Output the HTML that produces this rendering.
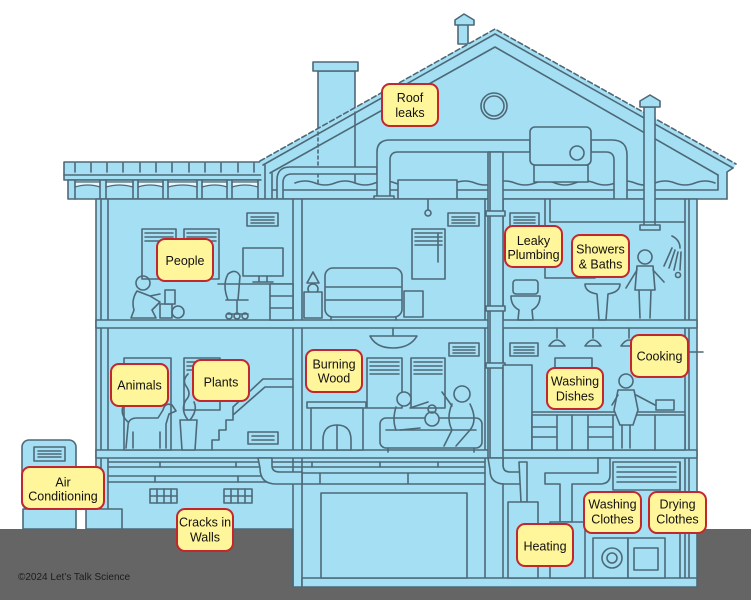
<!DOCTYPE html>
<html><head><meta charset="utf-8"><style>
html,body{margin:0;padding:0;background:#fff;}
svg{display:block}
.s{fill:none;stroke:#4d6977;stroke-width:1.6;stroke-linejoin:round;stroke-linecap:round}
.b{fill:#a5dff3;stroke:#4d6977;stroke-width:1.6;stroke-linejoin:round}
.w{fill:#eaf7fc;stroke:#4d6977;stroke-width:1.2}
.l rect{fill:#fff59b;stroke:#c1272d;stroke-width:2}
.l text{font-family:"Liberation Sans",sans-serif;font-size:12.5px;fill:#111;text-anchor:middle}
</style></head><body>
<svg width="751" height="600" viewBox="0 0 751 600" xmlns="http://www.w3.org/2000/svg">
<rect x="0" y="0" width="751" height="600" fill="#fff"/>
<rect x="0" y="529" width="751" height="71" fill="#656565"/>

<!-- chimney -->
<rect class="b" x="318" y="71" width="37" height="100"/>
<rect class="b" x="313" y="62" width="45" height="9"/>
<!-- peak vent -->
<rect class="b" x="458" y="24" width="10" height="20"/>
<polygon class="b" points="455,25 474,25 474,20 464,14 455,20"/>

<!-- left wing roof -->
<rect class="b" x="64" y="162" width="203" height="18"/>
<path class="s" d="M75,163V172M91,163V172M107,163V172M123,163V172M140,163V172M156,163V172M172,163V172M189,163V172M205,163V172M221,163V172M238,163V172M254,163V172M64,175H265"/>
<rect class="b" x="68" y="180" width="197" height="19"/>
<g class="w">
<path d="M75,182H100V187Q88,183 75,187Z"/><path d="M106,182H133V187Q120,183 106,187Z"/><path d="M138,182H163V187Q150,183 138,187Z"/><path d="M168,182H197V187Q183,183 168,187Z"/><path d="M202,182H227V187Q215,183 202,187Z"/><path d="M232,182H258V187Q245,183 232,187Z"/>
</g>
<path class="s" d="M75,180V199M100,180V199M106,180V199M133,180V199M138,180V199M163,180V199M168,180V199M197,180V199M202,180V199M227,180V199M232,180V199M258,180V199"/>

<!-- main roof -->
<polygon points="260,161 495,29 736,164 733,169 727,172 727,199 263,199" fill="#a5dff3"/>
<polyline class="s" points="260,161 495,29 736,164" stroke-dasharray="5 3"/>
<polyline class="s" points="263,165 495,34 733,168"/>
<polyline class="s" points="270,173 495,47 718,175"/>
<polyline class="s" points="733,168 727,172 727,199"/>
<path class="s" d="M718,175V190H272M263,199H727M265,165V199M272,173V199"/>
<path class="s" d="M318,132V183" stroke-dasharray="3 3"/>
<path class="s" d="M355,112V183"/>
<path class="s" d="M295,183q10,-4 20,0t20,0t20,0t20,0t20,0t20,0t20,0t20,0t20,0t20,0t20,0t20,0t20,0t20,0t20,0t20,0t20,0t20,0t20,0t20,0t20,0"/>
<circle class="s" cx="494" cy="106" r="13"/><circle class="s" cx="494" cy="106" r="10"/>

<!-- ducts -->
<path class="b" d="M277,199V180Q277,167 290,167H377V174H292Q283,174 283,183V199Z"/>
<path class="b" d="M377,199V152Q377,140 390,140H530V152H398Q390,152 390,160V199Z"/>
<path class="b" d="M591,140H612Q627,140 627,155V228H614V160Q614,152 606,152H591Z"/>
<rect class="b" x="534" y="165" width="54" height="17"/>
<rect class="b" x="530" y="127" width="61" height="38" rx="5"/>
<circle class="s" cx="577" cy="153" r="7"/>
<rect class="b" x="374" y="196" width="20" height="4"/>
<rect class="b" x="398" y="180" width="59" height="19"/>
<rect class="b" x="611" y="225" width="20" height="5"/>

<!-- house body -->
<polygon class="b" points="96,199 697,199 697,587 293,587 293,529 96,529"/>
<path class="s" d="M101,199V529M108,199V529M685,199V587M689,199V587M293,199V587M302,199V587M485,199V587M503,199V587"/>
<!-- slabs -->
<rect class="b" x="96" y="320" width="601" height="8"/>
<rect class="b" x="96" y="450" width="601" height="8"/>
<rect class="b" x="302" y="578" width="395" height="9"/>
<!-- pipe column -->
<rect class="b" x="488" y="152" width="15" height="306"/>
<path class="s" d="M490,152V458"/>
<rect class="b" x="486" y="306" width="19" height="5"/>
<rect class="b" x="486" y="363" width="19" height="5"/>
<rect class="b" x="486" y="211" width="19" height="5"/>
<!-- right vent pipe -->
<rect class="b" x="644" y="107" width="11" height="121"/>
<rect class="b" x="640" y="225" width="20" height="5"/>
<polygon class="b" points="640,107 660,107 660,101 650,95 640,101"/>

<!-- UPPER LEFT ROOM -->
<rect class="b" x="247" y="213" width="31" height="13"/>
<path class="s" d="M251,217H274M251,220H274M251,223H274"/>
<rect class="b" x="142" y="229" width="34" height="50"/><path class="s" d="M145,233H173M145,237H173M145,241H173"/>
<rect class="b" x="184" y="229" width="35" height="50"/><path class="s" d="M187,233H216M187,237H216M187,241H216"/>
<rect class="b" x="243" y="248" width="40" height="28"/>
<path class="s" d="M259,276V282M267,276V282M253,282H273M218,284H293"/>
<rect class="b" x="270" y="284" width="23" height="36"/><path class="s" d="M270,296H293M270,308H293"/>
<path class="s" d="M228,300Q222,285 228,274Q236,268 240,276L238,300Z M226,300H248M237,300V312M228,314H248"/>
<circle class="s" cx="229" cy="316" r="3"/><circle class="s" cx="237" cy="316" r="3"/><circle class="s" cx="245" cy="316" r="3"/>
<circle class="s" cx="143" cy="283" r="7"/>
<path class="s" d="M137,291Q131,300 134,310L131,318H156L152,310L160,302L150,296Z M150,296L160,294"/>
<rect class="b" x="160" y="304" width="12" height="14"/><rect class="b" x="165" y="290" width="10" height="14"/>
<circle class="s" cx="178" cy="312" r="6"/>

<!-- UPPER MIDDLE ROOM -->
<path class="s" d="M428,199V210"/><circle class="s" cx="428" cy="213" r="3"/>
<rect class="b" x="448" y="213" width="31" height="13"/><path class="s" d="M452,217H475M452,220H475M452,223H475"/>
<rect class="b" x="412" y="229" width="33" height="50"/><path class="s" d="M415,233H442M415,237H442M415,241H442M415,245H442M438,233V262"/>
<rect class="b" x="325" y="268" width="77" height="49" rx="8"/>
<path class="s" d="M326,287H401M326,300H401M331,317V320M396,317V320"/>
<polygon class="b" points="307,283 319,283 313,272"/><circle class="s" cx="313" cy="289" r="5"/>
<rect class="b" x="304" y="292" width="18" height="26"/>
<rect class="b" x="404" y="291" width="19" height="26"/>

<!-- UPPER RIGHT ROOM -->
<path class="s" d="M545,199V278H595M550,199V222H685"/>
<rect class="b" x="510" y="213" width="29" height="13"/><path class="s" d="M514,217H535M514,220H535M514,223H535"/>
<rect class="b" x="513" y="280" width="25" height="14" rx="3"/>
<path class="s" d="M511,296H540Q540,306 532,310L533,320H518L519,310Q511,306 511,296Z"/>
<path class="s" d="M585,284H620Q620,292 608,294L606,320H599L597,294Q585,292 585,284Z"/>
<circle class="s" cx="645" cy="257" r="7"/>
<path class="s" d="M637,266H653L655,290H635Z M639,290L640,318M651,290L650,318M637,270L626,288M653,270L664,282"/>
<path class="s" d="M672,236Q680,240 680,248M672,248L664,266M675,250L669,268M678,252L674,270M681,252L680,270"/>
<circle class="s" cx="678" cy="275" r="2.5"/>

<!-- GROUND LEFT ROOM -->
<rect class="b" x="124" y="358" width="47" height="92"/>
<rect class="b" x="184" y="358" width="36" height="52"/><path class="s" d="M187,362H217M187,366H217M187,370H217"/>
<path class="s" d="M212,450V440H219V430H226V420H233V407L263,379H293M233,415L265,387H293"/>
<rect class="b" x="248" y="432" width="30" height="12"/><path class="s" d="M252,436H274M252,440H274"/>
<path class="s" d="M126,448L128,426Q128,418 137,418H158L163,410Q165,402 172,405L176,411L169,414L166,424L166,448M160,448V432M133,448V432M128,422Q119,414 124,404"/>
<polygon class="b" points="180,420 197,420 195,450 182,450"/>
<path class="s" d="M188,420Q180,410 186,400Q192,394 186,386Q182,380 188,374M190,420Q198,410 194,402"/>

<!-- GROUND MIDDLE ROOM -->
<path class="s" d="M393,328V336M370,336H417Q410,348 393,348Q376,348 370,336Z"/>
<rect class="b" x="449" y="343" width="30" height="13"/><path class="s" d="M453,347H475M453,350H475M453,353H475"/>
<rect class="b" x="367" y="358" width="35" height="50"/><path class="s" d="M370,362H399M370,366H399M370,370H399M370,374H399"/>
<rect class="b" x="411" y="358" width="34" height="50"/><path class="s" d="M414,362H442M414,366H442M414,370H442M414,374H442"/>
<rect class="b" x="307" y="402" width="59" height="6"/>
<rect class="b" x="311" y="408" width="52" height="42"/>
<path class="s" d="M323,450V440Q323,425 337,425Q351,425 351,440V450M337,425V450"/>
<rect class="b" x="380" y="418" width="102" height="30" rx="6"/>
<path class="s" d="M386,430H476M388,448V452M474,448V452"/>
<circle class="b" cx="404" cy="399" r="7"/>
<path class="s" d="M396,407Q392,420 396,430M410,408L428,402M400,430L420,428"/>
<circle class="b" cx="432" cy="419" r="7"/><circle class="s" cx="432" cy="409" r="4"/>
<circle class="b" cx="462" cy="394" r="8"/>
<path class="s" d="M452,404Q446,418 452,430L444,446M470,404Q478,420 470,430L456,446M452,406L442,392"/>

<!-- GROUND RIGHT ROOM (kitchen) -->
<path class="s" d="M557,328V338M593,328V338M629,328V338"/>
<path class="b" d="M549,346Q557,334 565,346Z"/><path class="b" d="M585,346Q593,334 601,346Z"/><path class="b" d="M621,346Q629,334 637,346Z"/>
<rect class="b" x="510" y="343" width="28" height="13"/><path class="s" d="M514,347H534M514,350H534M514,353H534"/>
<rect class="b" x="555" y="358" width="37" height="20"/>
<rect class="b" x="503" y="365" width="29" height="85"/>
<path class="s" d="M532,412H685"/>
<rect class="b" x="532" y="415" width="153" height="35"/>
<path class="s" d="M557,415V450M572,415V450M588,415V450M613,415V450M655,415V450M532,427H557M532,437H557M588,427H613M588,437H613"/>
<rect class="b" x="656" y="400" width="18" height="10"/>
<path class="s" d="M687,352H703"/>
<circle class="b" cx="626" cy="381" r="7"/>
<path class="b" d="M618,390H634L638,410L633,425H620L614,410Z"/>
<path class="s" d="M622,425V448M630,425V448M636,395L655,405M618,395L612,405"/>

<!-- BASEMENT -->
<path class="s" d="M108,462H485M108,467H485M108,476H302M108,482H302"/>
<path class="s" d="M160,462V467M236,462V467M312,462V467M380,462V467M438,462V467M155,476V482M238,476V482"/>
<path class="b" d="M258,458H272V466Q272,472 280,472H302V484H276Q260,484 260,468Z"/>
<path class="s" d="M302,473H485M302,484H485M320,473V484M408,473V484"/>
<rect class="b" x="150" y="489" width="27" height="14"/><path class="s" d="M150,496H177M157,489V503M164,489V503M171,489V503"/>
<rect class="b" x="224" y="489" width="28" height="14"/><path class="s" d="M224,496H252M231,489V503M238,489V503M245,489V503"/>
<rect class="b" x="321" y="493" width="146" height="85"/>
<!-- right basement -->
<path class="b" d="M488,458H503V465Q503,472 510,472H525V484H505Q490,484 490,470Z"/>
<path class="b" d="M519,462H527V502H521Z"/>
<rect class="b" x="508" y="502" width="30" height="76"/>
<path class="b" d="M545,473H598V458H610V475Q610,484 600,484H572V522H560V484H545Z"/>
<rect class="b" x="550" y="522" width="35" height="56"/>
<rect class="b" x="613" y="462" width="67" height="28"/>
<path class="s" d="M617,467H676M617,472H676M617,477H676M617,482H676"/>
<path class="s" d="M680,462V578"/>
<rect class="b" x="593" y="538" width="35" height="40"/>
<rect class="b" x="628" y="538" width="37" height="40"/>
<circle class="s" cx="612" cy="558" r="10"/><circle class="s" cx="612" cy="558" r="5"/>
<rect class="s" x="634" y="548" width="24" height="22"/>
<path class="s" d="M655,520Q662,510 664,495"/>

<!-- AC unit -->
<rect class="b" x="22" y="440" width="54" height="69" rx="7"/>
<rect class="b" x="34" y="447" width="31" height="14"/><path class="s" d="M38,451H61M38,454H61M38,457H61"/>
<rect class="b" x="23" y="509" width="53" height="20"/>
<rect class="b" x="86" y="509" width="36" height="20"/>

<text x="18" y="580" font-family="Liberation Sans, sans-serif" font-size="10" fill="#1c1c1c">©2024 Let’s Talk Science</text>

<!-- labels -->
<g class="l">
<rect x="382" y="84" width="56" height="42" rx="8"/><text x="410" y="102">Roof</text><text x="410" y="117">leaks</text>
<rect x="157" y="239" width="56" height="42" rx="8"/><text x="185" y="265">People</text>
<rect x="505" y="226" width="57" height="41" rx="8"/><text x="533.5" y="245">Leaky</text><text x="533.5" y="259">Plumbing</text>
<rect x="572" y="235" width="57" height="42" rx="8"/><text x="600.5" y="253.5">Showers</text><text x="600.5" y="268.5">&amp; Baths</text>
<rect x="111" y="364" width="57" height="42" rx="8"/><text x="139.5" y="389.5">Animals</text>
<rect x="193" y="360" width="56" height="41" rx="8"/><text x="221" y="386.5">Plants</text>
<rect x="306" y="350" width="56" height="42" rx="8"/><text x="334" y="368.5">Burning</text><text x="334" y="382.5">Wood</text>
<rect x="22" y="467" width="82" height="42" rx="8"/><text x="63" y="486.5">Air</text><text x="63" y="500.5">Conditioning</text>
<rect x="177" y="509" width="56" height="42" rx="8"/><text x="205" y="526.5">Cracks in</text><text x="205" y="541.5">Walls</text>
<rect x="631" y="335" width="57" height="42" rx="8"/><text x="659.5" y="360.5">Cooking</text>
<rect x="547" y="368" width="56" height="41" rx="8"/><text x="575" y="385.5">Washing</text><text x="575" y="400.5">Dishes</text>
<rect x="584" y="492" width="57" height="41" rx="8"/><text x="612.5" y="508.5">Washing</text><text x="612.5" y="523.5">Clothes</text>
<rect x="649" y="492" width="57" height="41" rx="8"/><text x="677.5" y="508.5">Drying</text><text x="677.5" y="523.5">Clothes</text>
<rect x="517" y="524" width="56" height="42" rx="8"/><text x="545" y="550.5">Heating</text>
</g>
</svg>
</body></html>
